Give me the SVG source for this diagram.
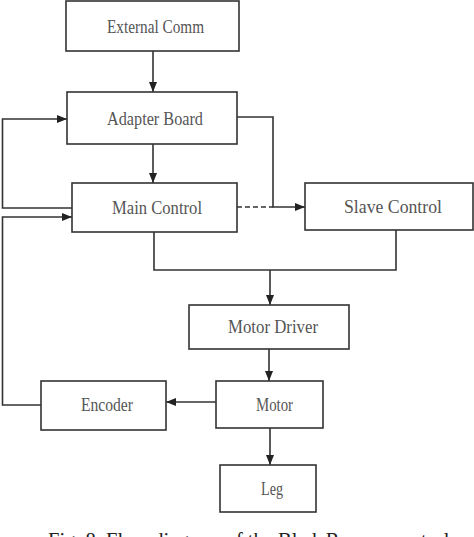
<svg xmlns="http://www.w3.org/2000/svg" width="474" height="537" viewBox="0 0 474 537">
<style>
.box{fill:#fff;stroke:#333;stroke-width:1.6}
.lbl{font-family:"Liberation Serif","DejaVu Serif",serif;font-size:19px;fill:#555}
.ln{fill:none;stroke:#333;stroke-width:1.6}
.dash{fill:none;stroke:#333;stroke-width:1.6;stroke-dasharray:5,3}
.cap{font-family:"Liberation Serif","Times New Roman",serif;font-size:20.5px;fill:#222}
</style>
<defs>
<marker id="ah" markerUnits="userSpaceOnUse" markerWidth="10" markerHeight="10" viewBox="0 0 10 10" refX="10" refY="5" orient="auto">
<path d="M0,1 L10,5 L0,9 z" fill="#222"/>
</marker>
</defs>
<rect width="474" height="537" fill="#fff"/>
<g id="connectors">
<path class="ln" d="M153,51 V92" marker-end="url(#ah)"/>
<path class="ln" d="M153,144 V183" marker-end="url(#ah)"/>
<path class="ln" d="M237,117 H273 V207 H305" marker-end="url(#ah)"/>
<path class="dash" d="M237,207 H273"/>
<path class="ln" d="M72,208 H2.5 V119 H67" marker-end="url(#ah)"/>
<path class="ln" d="M41,405 H2.5 V217 H72" marker-end="url(#ah)"/>
<path class="ln" d="M154,232 V270 H396 V230"/>
<path class="ln" d="M270,270 V305" marker-end="url(#ah)"/>
<path class="ln" d="M269,349 V381" marker-end="url(#ah)"/>
<path class="ln" d="M216,402 H166" marker-end="url(#ah)"/>
<path class="ln" d="M270,428 V465" marker-end="url(#ah)"/>
</g>
<g id="external-comm">
<rect class="box" x="66" y="1" width="173" height="50"/>
<text class="lbl" x="107" y="33" textLength="97" lengthAdjust="spacingAndGlyphs">External Comm</text>
</g>
<g id="adapter-board">
<rect class="box" x="67" y="92" width="170" height="52"/>
<text class="lbl" x="107" y="125" textLength="96" lengthAdjust="spacingAndGlyphs">Adapter Board</text>
</g>
<g id="main-control">
<rect class="box" x="72" y="183" width="165" height="49"/>
<text class="lbl" x="112" y="214" textLength="90" lengthAdjust="spacingAndGlyphs">Main Control</text>
</g>
<g id="slave-control">
<rect class="box" x="305" y="183" width="168" height="47"/>
<text class="lbl" x="344" y="213" textLength="98" lengthAdjust="spacingAndGlyphs">Slave Control</text>
</g>
<g id="motor-driver">
<rect class="box" x="189" y="305" width="160" height="44"/>
<text class="lbl" x="228" y="333" textLength="90" lengthAdjust="spacingAndGlyphs">Motor Driver</text>
</g>
<g id="motor">
<rect class="box" x="216" y="381" width="107" height="47"/>
<text class="lbl" x="256" y="411" textLength="37" lengthAdjust="spacingAndGlyphs">Motor</text>
</g>
<g id="encoder">
<rect class="box" x="41" y="381" width="125" height="49"/>
<text class="lbl" x="81" y="411" textLength="52" lengthAdjust="spacingAndGlyphs">Encoder</text>
</g>
<g id="leg">
<rect class="box" x="220" y="465" width="96" height="47"/>
<text class="lbl" x="261" y="495" textLength="22" lengthAdjust="spacingAndGlyphs">Leg</text>
</g>
<text class="cap" x="48" y="547">Fig. 8. Flow diagram of the BladeRunner control</text>
</svg>
